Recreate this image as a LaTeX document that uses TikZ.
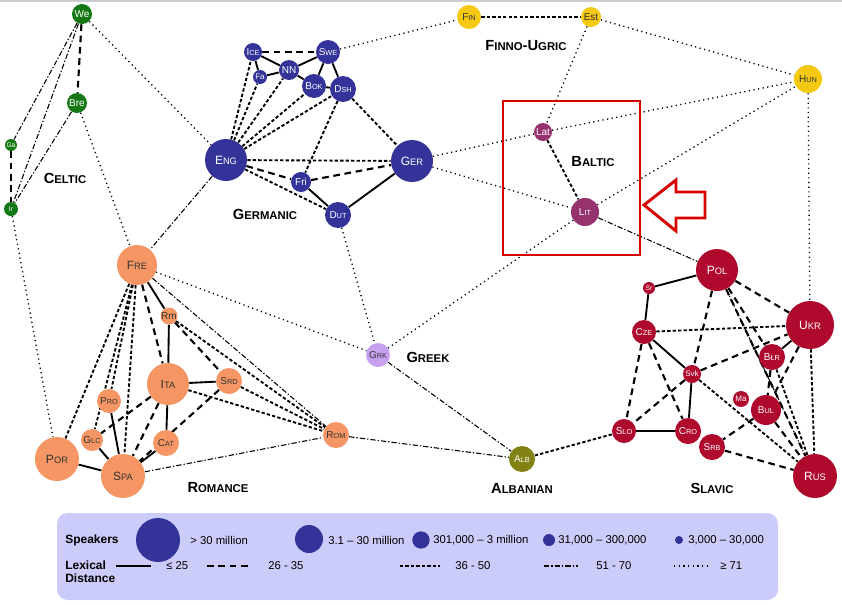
\documentclass[tikz,border=0pt]{standalone}
\usepackage{fontspec}
\setmainfont{Liberation Sans}
\usetikzlibrary{backgrounds}
\definecolor{gblue}{RGB}{51,51,153}
\definecolor{ggreen}{RGB}{20,120,20}
\definecolor{gyellow}{RGB}{245,200,20}
\definecolor{gpurple}{RGB}{150,50,110}
\definecolor{gorange}{RGB}{245,150,100}
\definecolor{gred}{RGB}{175,10,45}
\definecolor{glilac}{RGB}{200,160,240}
\definecolor{golive}{RGB}{130,130,20}
\definecolor{glegend}{RGB}{204,204,250}
\newcommand\mysc[2]{#1{\fontsize{5.5}{6}\selectfont #2}}
\newcommand\grp[2]{{\bfseries\fontsize{11}{12}\selectfont #1\fontsize{8.5}{10}\selectfont #2}}
\tikzset{
 lang/.style={circle,inner sep=0pt,text=white,font=\fontsize{7.5}{8}\selectfont},
 r/.style={minimum size=#1*1.5pt},
 ea/.style={line width=1.4pt},
 eb/.style={line width=1.6pt,dash pattern=on 5pt off 3.5pt},
 ec/.style={line width=1.4pt,dash pattern=on 2.5pt off 1.6pt},
 ed/.style={line width=0.8pt,dash pattern=on 4pt off 1.5pt on 1pt off 1.5pt},
 ee/.style={line width=1pt,dash pattern=on 0.9pt off 2.6pt},
 glab/.style={inner sep=0pt},
 ltxt/.style={anchor=west,font=\fontsize{8.5}{9}\selectfont,inner sep=0pt}
}
\begin{document}
\begin{tikzpicture}[x=0.75pt,y=-0.75pt]
\useasboundingbox (0,0) rectangle (842,604);
\draw[gray!40,line width=1pt] (0,1) -- (842,1);
% Celtic
\node[lang,r=10,fill=ggreen] (we) at (82,14) {We};
\node[lang,r=10,fill=ggreen] (bre) at (77,103) {Bre};
\node[lang,r=6,fill=ggreen,font=\fontsize{5}{6}\selectfont] (ga) at (11,145) {Ga};
\node[lang,r=7,fill=ggreen,font=\fontsize{5}{6}\selectfont] (ir) at (11,209) {Ir};
\node[glab] (lcel) at (65,178) {\grp{C}{ELTIC}};
% Germanic
\node[lang,r=21,fill=gblue,font=\fontsize{9}{9}\selectfont] (eng) at (226,160) {E{\fontsize{7}{7}\selectfont NG}};
\node[lang,r=9,fill=gblue] (ice) at (253,52) {\mysc{I}{CE}};
\node[lang,r=7,fill=gblue,font=\fontsize{6}{7}\selectfont] (fa) at (260,77) {Fa};
\node[lang,r=10,fill=gblue] (nn) at (289,70) {NN};
\node[lang,r=12,fill=gblue] (swe) at (328,52) {\mysc{S}{WE}};
\node[lang,r=12,fill=gblue] (bok) at (314,86) {\mysc{B}{OK}};
\node[lang,r=13,fill=gblue] (dsh) at (343,89) {\mysc{D}{SH}};
\node[lang,r=21,fill=gblue,font=\fontsize{9}{9}\selectfont] (ger) at (412,161) {G{\fontsize{7}{7}\selectfont ER}};
\node[lang,r=10,fill=gblue] (fri) at (301,182) {Fri};
\node[lang,r=13,fill=gblue] (dut) at (338,215) {\mysc{D}{UT}};
\node[glab] (lger) at (265,214) {\grp{G}{ERMANIC}};
% Finno-Ugric
\node[lang,r=12,fill=gyellow,text=black!80] (fin) at (469,17) {\mysc{F}{IN}};
\node[lang,r=10,fill=gyellow,text=black!80] (est) at (591,17) {Est};
\node[lang,r=14,fill=gyellow,text=black!80] (hun) at (808,79) {\mysc{H}{UN}};
\node[glab] (lfin) at (526,46) {\grp{F}{INNO}\grp{-U}{GRIC}};
% Baltic
\node[lang,r=9,fill=gpurple] (lat) at (543,132) {Lat};
\node[lang,r=14,fill=gpurple] (lit) at (585,212) {\mysc{L}{IT}};
\node[glab] (lbal) at (593,162) {\grp{B}{ALTIC}};
% Romance
\node[lang,r=20,fill=gorange,text=black!80,font=\fontsize{9}{9}\selectfont] (fre) at (137,265) {F{\fontsize{7}{7}\selectfont RE}};
\node[lang,r=8,fill=gorange,text=black!80] (rm) at (169,316) {Rm};
\node[lang,r=21,fill=gorange,text=black!80,font=\fontsize{9}{9}\selectfont] (ita) at (168,384) {I{\fontsize{7}{7}\selectfont TA}};
\node[lang,r=13,fill=gorange,text=black!80] (srd) at (229,381) {\mysc{S}{RD}};
\node[lang,r=12,fill=gorange,text=black!80] (pro) at (109,401) {\mysc{P}{RO}};
\node[lang,r=11,fill=gorange,text=black!80] (glc) at (92,440) {\mysc{G}{LC}};
\node[lang,r=13,fill=gorange,text=black!80] (cat) at (166,443) {\mysc{C}{AT}};
\node[lang,r=22,fill=gorange,text=black!80,font=\fontsize{9}{9}\selectfont] (por) at (57,459) {P{\fontsize{7}{7}\selectfont OR}};
\node[lang,r=22,fill=gorange,text=black!80,font=\fontsize{9}{9}\selectfont] (spa) at (123,476) {S{\fontsize{7}{7}\selectfont PA}};
\node[lang,r=13,fill=gorange,text=black!80] (rom) at (336,435) {\mysc{R}{OM}};
\node[glab] (lrom) at (218,488) {\grp{R}{OMANCE}};
% Greek, Albanian
\node[lang,r=12,fill=glilac,text=black!80] (grk) at (378,355) {\mysc{G}{RK}};
\node[glab] (lgrk) at (428,357) {\grp{G}{REEK}};
\node[lang,r=13,fill=golive] (alb) at (522,459) {\mysc{A}{LB}};
\node[glab] (lalb) at (522,488) {\grp{A}{LBANIAN}};
% Slavic
\node[lang,r=21,fill=gred,font=\fontsize{9}{9}\selectfont] (pol) at (717,270) {P{\fontsize{7}{7}\selectfont OL}};
\node[lang,r=6,fill=gred,font=\fontsize{5}{6}\selectfont] (sr) at (649,288) {Sr};
\node[lang,r=12,fill=gred] (cze) at (644,332) {\mysc{C}{ZE}};
\node[lang,r=24,fill=gred,font=\fontsize{9}{9}\selectfont] (ukr) at (810,325) {U{\fontsize{7}{7}\selectfont KR}};
\node[lang,r=13,fill=gred] (blr) at (772,357) {\mysc{B}{ŁR}};
\node[lang,r=9,fill=gred,font=\fontsize{6}{7}\selectfont] (svk) at (692,374) {Svk};
\node[lang,r=8,fill=gred,font=\fontsize{6}{7}\selectfont] (ma) at (741,399) {Ma};
\node[lang,r=15,fill=gred] (bul) at (766,410) {\mysc{B}{UL}};
\node[lang,r=12,fill=gred] (slo) at (624,431) {\mysc{S}{LO}};
\node[lang,r=13,fill=gred] (cro) at (688,431) {\mysc{C}{RO}};
\node[lang,r=13,fill=gred] (srb) at (712,447) {\mysc{S}{RB}};
\node[lang,r=22,fill=gred,font=\fontsize{9}{9}\selectfont] (rus) at (815,476) {R{\fontsize{7}{7}\selectfont US}};
\node[glab] (lsla) at (712,488) {\grp{S}{LAVIC}};
\begin{scope}[on background layer]
% Celtic
\draw[eb] (we)--(bre); \draw[eb] (ga)--(ir);
\draw[ed] (we)--(ga); \draw[ed] (we)--(ir); \draw[ed] (bre)--(ir);
\draw[ee] (we)--(eng); \draw[ee] (bre)--(fre); \draw[ee] (ir)--(por);
\draw[ed] (eng)--(fre);
% Germanic
\foreach \t in {ice,fa,nn,bok,dsh,ger,dut} \draw[ec] (eng)--(\t);
\draw[eb] (eng)--(fri); \draw[eb] (ice)--(swe); \draw[eb] (fri)--(ger);
\draw[ea] (ice)--(nn); \draw[ea] (ice)--(fa); \draw[ea] (fa)--(nn); \draw[ea] (nn)--(swe);
\draw[ea] (nn)--(bok); \draw[ea] (swe)--(bok); \draw[ea] (swe)--(dsh); \draw[ea] (bok)--(dsh);
\draw[ec] (dsh)--(ger); \draw[ec] (dsh)--(fri);
\draw[ea] (fri)--(dut); \draw[ea] (dut)--(ger);
\draw[ee] (dut)--(grk); \draw[ee] (ger)--(lat); \draw[ee] (ger)--(lit); \draw[ee] (swe)--(fin);
% Finno-Ugric, Baltic
\draw[ec] (fin)--(est); \draw[ee] (est)--(hun); \draw[ee] (est)--(lat);
\draw[ee] (lat)--(hun); \draw[ee] (lit)--(hun); \draw[ee] (hun)--(ukr);
\draw[ec] (lat)--(lit); \draw[ed] (lit)--(pol); \draw[ee] (lit)--(grk);
% Romance
\draw[ea] (fre)--(rm); \draw[eb] (fre)--(ita);
\foreach \t in {por,pro,glc,spa} \draw[ec] (fre)--(\t);
\draw[ed] (fre)--(rom); \draw[ee] (fre)--(grk);
\draw[ea] (rm)--(ita); \draw[eb] (rm)--(srd); \draw[ec] (rm)--(rom);
\draw[ea] (ita)--(srd); \draw[ea] (ita)--(cat); \draw[ec] (ita)--(rom);
\draw[eb] (ita)--(glc); \draw[eb] (ita)--(spa); \draw[ec] (srd)--(rom); \draw[eb] (srd)--(spa);
\draw[ea] (pro)--(spa); \draw[ea] (glc)--(spa); \draw[ea] (por)--(spa); \draw[ea] (cat)--(spa);
\draw[ed] (spa)--(rom); \draw[ed] (rom)--(alb); \draw[ed] (grk)--(alb);
\draw[ec] (alb)--(slo);
% Slavic
\draw[ea] (pol)--(sr); \draw[ea] (sr)--(cze); \draw[ea] (cze)--(svk); \draw[ea] (svk)--(cro); \draw[ea] (slo)--(cro); \draw[ea] (ukr)--(blr);
\draw[eb] (pol)--(svk); \draw[eb] (pol)--(ukr); \draw[eb] (pol)--(blr); \draw[eb] (pol)--(rus);
\draw[ed] (pol)--(rus);
\draw[ec] (cze)--(ukr); \draw[eb] (cze)--(slo); \draw[eb] (cze)--(cro);
\draw[eb] (svk)--(ukr); \draw[eb] (svk)--(slo); \draw[ec] (svk)--(rus);
\draw[eb] (ukr)--(bul); \draw[ec] (ukr)--(rus); \draw[ec] (blr)--(rus);
\draw[eb] (blr)--(bul); \draw[eb] (bul)--(srb); \draw[eb] (bul)--(rus); \draw[eb] (srb)--(rus);
\end{scope}
% highlight
\draw[red!85!black,line width=2.2pt] (503,101) rectangle (640,255);
\draw[red!85!black,line width=2.2pt,line join=miter] (644,205) -- (676,180) -- (676,192) -- (705,192) -- (705,218) -- (676,218) -- (676,231) -- cycle;
% legend
\fill[glegend,rounded corners=8pt] (57,513) rectangle (778,600);
\node[ltxt,font=\bfseries\fontsize{9}{10}\selectfont] (spk) at (65,540) {Speakers};
\node[ltxt,font=\bfseries\fontsize{9}{10}\selectfont,align=left] (lex) at (65,572) {Lexical\\Distance};
\node[circle,fill=gblue,minimum width=31pt,minimum height=33pt,inner sep=0pt] (c1) at (158,540) {};
\node[ltxt] (t1) at (190,540) {> 30 million};
\node[circle,fill=gblue,minimum size=21pt,inner sep=0pt] (c2) at (309,539) {};
\node[ltxt] (t2) at (328,540) {3.1 – 30 million};
\node[circle,fill=gblue,minimum size=13pt,inner sep=0pt] (c3) at (421,540) {};
\node[ltxt] (t3) at (433,540) {301,000 – 3 million};
\node[circle,fill=gblue,minimum size=9pt,inner sep=0pt] (c4) at (549,540) {};
\node[ltxt] (t4) at (558,540) {31,000 – 300,000};
\node[circle,fill=gblue,minimum size=6pt,inner sep=0pt] (c5) at (679,540) {};
\node[ltxt] (t5) at (688,540) {3,000 – 30,000};
\coordinate (a1) at (116,566); \coordinate (a2) at (151,566);
\coordinate (b1) at (207,566); \coordinate (b2) at (251,566);
\coordinate (d1) at (400,566); \coordinate (d2) at (440,566);
\coordinate (e1) at (544,566); \coordinate (e2) at (578,566);
\coordinate (f1) at (674,566); \coordinate (f2) at (708,566);
\draw[ea] (a1)--(a2); \draw[eb] (b1)--(b2); \draw[ec] (d1)--(d2); \draw[ed] (e1)--(e2); \draw[ee] (f1)--(f2);
\node[ltxt] (u1) at (166,566) {≤ 25};
\node[ltxt] (u2) at (268,566) {26 - 35};
\node[ltxt] (u3) at (455,566) {36 - 50};
\node[ltxt] (u4) at (596,566) {51 - 70};
\node[ltxt] (u5) at (720,566) {≥ 71};
\end{tikzpicture}
\end{document}
